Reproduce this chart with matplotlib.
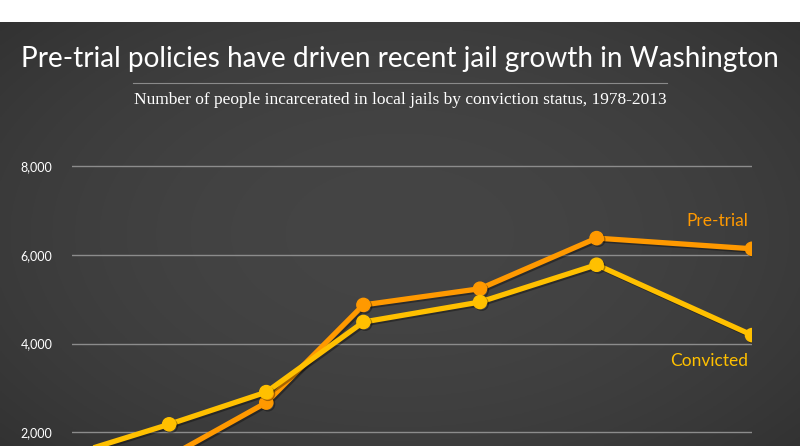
import matplotlib
matplotlib.use("Agg")
import matplotlib.pyplot as plt
import matplotlib.patheffects as pe
import numpy as np

years = [1978, 1983, 1988, 1993, 1999, 2005, 2013]
pretrial = [1100, 1450, 2670, 4870, 5235, 6375, 6135]
convicted = [1500, 2180, 2905, 4485, 4935, 5775, 4190]
yticks = [2000, 4000, 6000, 8000]

title = "Pre-trial policies have driven recent jail growth in Washington"
subtitle = "Number of people incarcerated in local jails by conviction status, 1978-2013"

W, H = 800, 446
fig = plt.figure(figsize=(W / 100, H / 100), dpi=100)
fig.patch.set_facecolor("white")

# dark panel with a soft radial gradient, white strip on top
bg = fig.add_axes([0, 0, 1, (H - 22) / H])
yy, xx = np.mgrid[-1:1:200j, -1:1:360j]
r = np.sqrt((xx * 0.9) ** 2 + (yy * 0.8) ** 2)
shade = 0.27 - 0.05 * np.clip(r, 0, 1.3) ** 2
bg.imshow(np.dstack([shade] * 3), aspect="auto", extent=[0, 1, 0, 1])
bg.set_axis_off()

fig.text(0.5, 1 - 59 / H, title, ha="center", va="center", color="white",
         fontsize=20.2, family="Lato")
fig.add_artist(plt.Line2D([133 / W, 667 / W], [1 - 83 / H] * 2,
                          color="#8a8a8a", lw=0.8))
fig.text(0.5, 1 - 100 / H, subtitle, ha="center", va="center", color="white",
         fontsize=12.5, family="Liberation Serif")

# axes: 2000 at y=432px, 8000 at y=166px
px_per = (432.3 - 166) / 6000
ymin = 2000 - (H - 432.3) / px_per
ytop_px = 120
ymax = 8000 + (166 - ytop_px) / px_per
ax = fig.add_axes([72 / W, 0, (752 - 72) / W, (H - ytop_px) / H])
ax.set_facecolor("none")
ax.set_xlim(1978, 2013)
ax.set_ylim(ymin, ymax)
for s in ax.spines.values():
    s.set_visible(False)
ax.set_xticks([])
ax.set_yticks(yticks)
ax.set_yticklabels([f"{v:,}" for v in yticks], color="white", fontsize=9, family="Lato")
ax.tick_params(axis="y", length=0, pad=14)
for v in yticks:
    ax.axhline(v, color="#8c8c8c", lw=1, zorder=1)

shadow = [pe.SimpleLineShadow(offset=(1.2, -1.2), shadow_color="black", alpha=0.35), pe.Normal()]
ax.plot(years, pretrial, color="#FF9900", lw=3.8, marker="o", ms=9.5,
        zorder=3, path_effects=shadow)
ax.plot(years, convicted, color="#FFC000", lw=3.8, marker="o", ms=9.5,
        zorder=4, path_effects=shadow)

ax.text(2012.8, pretrial[-1] + 620, "Pre-trial", color="#FF9900", fontsize=12.5,
        ha="right", va="center", family="Lato")
ax.text(2012.8, convicted[-1] - 590, "Convicted", color="#FFC000", fontsize=12.5,
        ha="right", va="center", family="Lato")

fig.savefig("out.png", dpi=100, facecolor=fig.get_facecolor())
